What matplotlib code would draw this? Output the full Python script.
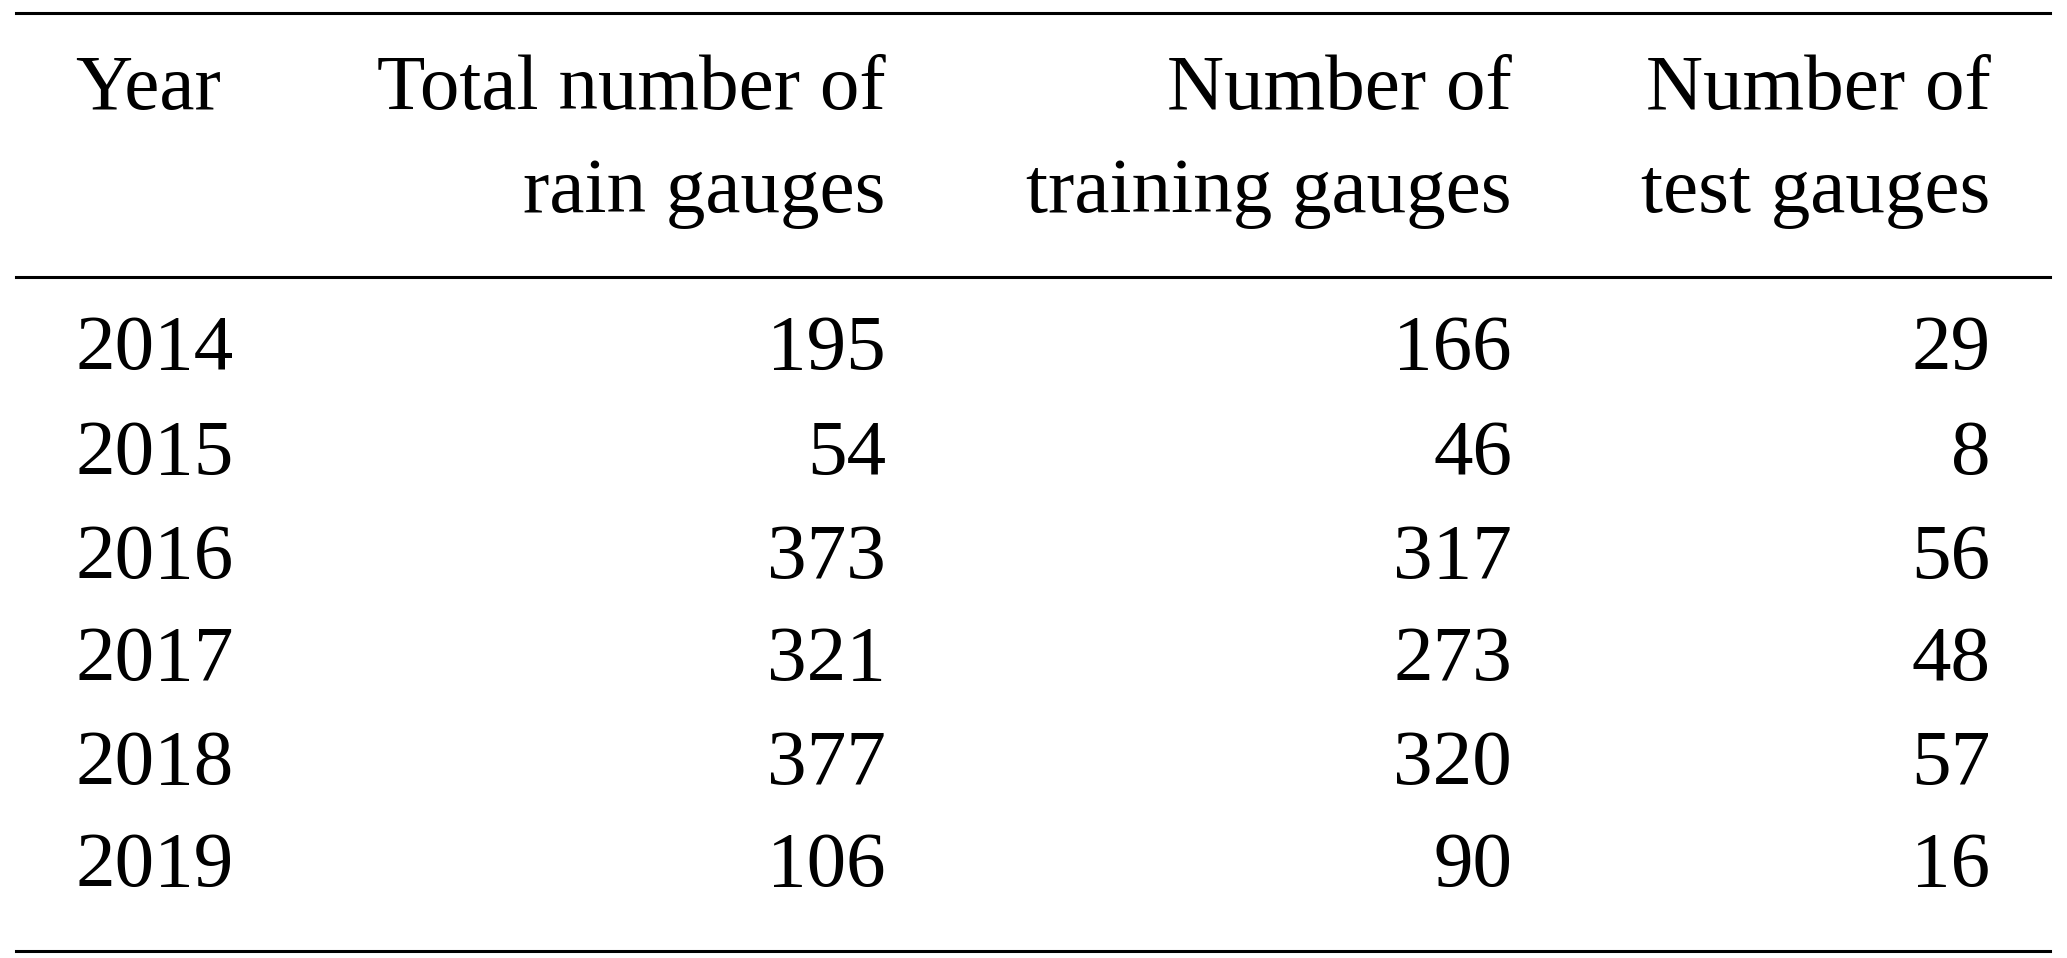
import matplotlib
matplotlib.use("Agg")
import matplotlib.pyplot as plt

years = ["2014", "2015", "2016", "2017", "2018", "2019"]
total = [195, 54, 373, 321, 377, 106]
training = [166, 46, 317, 273, 320, 90]
test = [29, 8, 56, 48, 57, 16]
headers = [["Year", ""], ["Total number of", "rain gauges"],
           ["Number of", "training gauges"], ["Number of", "test gauges"]]

W, H = 1568, 720
fig = plt.figure(figsize=(20.67, 9.58), dpi=100)
fs = 57
fam = "Liberation Serif"

def fy(y): return 1 - y / H
def fx(x): return x / W

for y in (10, 208, 715):
    fig.add_artist(plt.Line2D([fx(12), fx(1555)], [fy(y), fy(y)], color="black", lw=2.2))

col_x = [57, 672, 1147, 1510]
aligns = ["left", "right", "right", "right"]
for (l1, l2), x, ha in zip(headers, col_x, aligns):
    fig.text(fx(x), fy(68), l1, ha=ha, va="center", fontsize=fs, family=fam)
    if l2:
        fig.text(fx(x), fy(145), l2, ha=ha, va="center", fontsize=fs, family=fam)

row_y = [263, 342, 420, 497, 575, 652]
for i, y in enumerate(row_y):
    vals = [years[i], str(total[i]), str(training[i]), str(test[i])]
    for v, x, ha in zip(vals, col_x, aligns):
        fig.text(fx(x), fy(y), v, ha=ha, va="center", fontsize=fs, family=fam)

fig.savefig("out.png", dpi=100, facecolor="white")
